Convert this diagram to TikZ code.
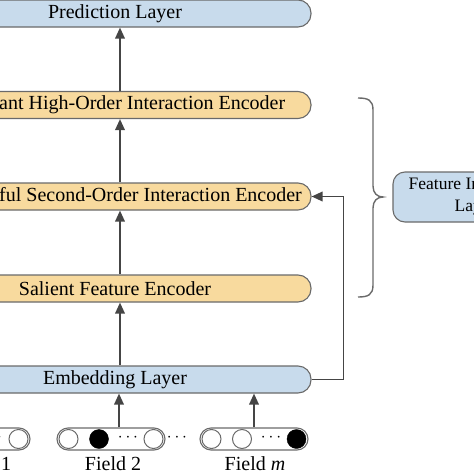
\documentclass[tikz,border=0pt]{standalone}
\usepackage{fontspec}
\setmainfont{Liberation Serif}
\usetikzlibrary{arrows.meta}
\definecolor{blueF}{HTML}{C8DBEC}
\definecolor{orangeF}{HTML}{F8DA9E}
\definecolor{edgeC}{HTML}{6A6A6A}
\definecolor{arrC}{HTML}{454545}
\begin{document}
\begin{tikzpicture}[x=1pt,y=-1pt,
 layer/.style={draw=edgeC, line width=1.1pt, rounded corners=13pt, minimum width=392pt, minimum height=27pt, inner sep=0pt, font=\fontsize{20}{22}\selectfont},
 bluebox/.style={layer, fill=blueF},
 orangebox/.style={layer, fill=orangeF},
 arr/.style={draw=arrC, line width=1.8pt, -{Triangle[length=11pt,width=9.5pt]}},
 vec/.style={draw=edgeC, line width=1.1pt, rounded corners=11pt, minimum width=108pt, minimum height=22pt, inner sep=0pt},
 oc/.style={circle, draw=edgeC, line width=1pt, fill=white, minimum size=19pt, inner sep=0pt},
 bc/.style={circle, draw=black, fill=black, minimum size=19pt, inner sep=0pt},
 dotsn/.style={inner sep=0pt, font=\fontsize{17}{17}\selectfont},
 lbl/.style={font=\fontsize{20}{22}\selectfont, inner sep=0pt},
 featbox/.style={draw=edgeC, line width=1.1pt, fill=blueF, rounded corners=12pt, minimum width=164pt, minimum height=50pt, align=center, inner sep=0pt, font=\fontsize{17.5}{22}\selectfont},
 bracel/.style={draw=edgeC, line width=1.4pt}
]
\useasboundingbox (0,0) rectangle (474,474);
\clip (0,0) rectangle (474,474);

% layers
\node[bluebox] (pred) at (115,13.5) {Prediction Layer};
\node[orangebox] (high) at (115,105) {Important High-Order Interaction Encoder\hspace{2pt}};
\node[orangebox] (second) at (115,196.5) {Meaningful Second-Order Interaction Encoder};
\node[orangebox] (salient) at (115,288.5) {Salient Feature Encoder};
\node[bluebox] (embed) at (115,379.5) {Embedding Layer};

% vertical arrows
\draw[arr] ([xshift=5pt]embed.north) -- ([xshift=5pt]salient.south);
\draw[arr] ([xshift=5pt]salient.north) -- ([xshift=5pt]second.south);
\draw[arr] ([xshift=5pt]second.north) -- ([xshift=5pt]high.south);
\draw[arr] ([xshift=5pt]high.north) -- ([xshift=5pt]pred.south);

% skip connection
\draw[arr] (embed.east) -- ++(32,0) |- (second.east);

% field vectors
\node[vec] (f1) at (-24,439) {};
\node[vec] (f2) at (111,439) {};
\node[vec] (fm) at (254,439) {};

\node[oc] (f1a) at (-66.5,439) {};
\node[bc] (f1b) at (-37,439) {};
\node[dotsn] (f1d) at (-8,438) {$\cdots$};
\node[oc] (f1c) at (18.5,439) {};

\node[oc] (f2a) at (68.5,439) {};
\node[bc] (f2b) at (99,439) {};
\node[dotsn] (f2d) at (128,438) {$\cdots$};
\node[oc] (f2c) at (153.5,439) {};

\node[oc] (fma) at (211.5,439) {};
\node[oc] (fmb) at (242,439) {};
\node[dotsn] (fmd) at (271,438) {$\cdots$};
\node[bc] (fmc) at (296.5,439) {};

\node[dotsn] (gapd) at (177,438) {$\cdots$};

\draw[arr] ([xshift=8pt]f2.north) -- ([xshift=8pt]f2.north |- embed.south);
\draw[arr] (fm.north) -- (fm.north |- embed.south);

% labels
\node[lbl] (l1) at (-17,464) {Field 1};
\node[lbl] (l2) at (113,464) {Field 2};
\node[lbl] (lm) at (255,464) {Field \textit{m}};

% brace
\draw[bracel] (358,98) .. controls (368,98) and (373,100) .. (373,110)
  -- (373,186) .. controls (373,193) and (377,197) .. (383,197)
  .. controls (377,197) and (373,201) .. (373,208)
  -- (373,285) .. controls (373,295) and (368,297) .. (358,297);

% feature interaction layer
\node[featbox] (feat) at (475,197) {Feature Interaction\\Layer};
\end{tikzpicture}
\end{document}
